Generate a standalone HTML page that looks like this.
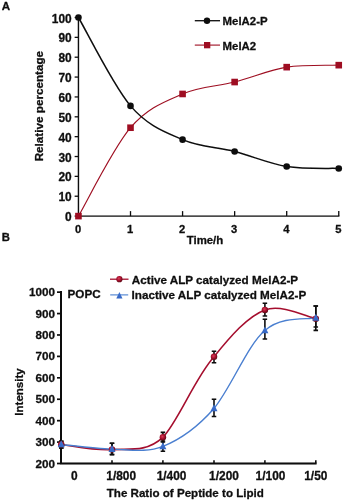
<!DOCTYPE html><html><head><meta charset="utf-8"><title>Figure</title><style>html,body{margin:0;padding:0;background:#fff}svg{display:block}</style></head><body><svg width="344" height="502" viewBox="0 0 344 502">
<defs>
<radialGradient id="gr" cx="0.42" cy="0.38" r="0.62"><stop offset="0" stop-color="#d8405a"/><stop offset="0.5" stop-color="#ad1230"/><stop offset="1" stop-color="#5c0716"/></radialGradient>
<linearGradient id="gb" x1="0" y1="0" x2="0" y2="1"><stop offset="0" stop-color="#3f74cf"/><stop offset="1" stop-color="#3566c4"/></linearGradient>
<filter id="soft" x="-2%" y="-2%" width="104%" height="104%"><feGaussianBlur stdDeviation="0.33"/></filter>
</defs>
<rect width="344" height="502" fill="#ffffff"/>
<g filter="url(#soft)">
<g font-family="Liberation Sans, Arial, sans-serif" font-weight="bold" stroke="#0c0c0c" stroke-width="0.28" stroke-linejoin="round" fill="#0c0c0c">
<text x="1.7" y="9.6" font-size="11.6">A</text>
<text x="1.7" y="241.1" font-size="11.3">B</text>
<path d="M78.45,17.00 V216.1 H339.40" fill="none" stroke="#0c0c0c" stroke-width="1.4"/>
<line x1="74.65" x2="78.45" y1="216.10" y2="216.10" stroke="#0c0c0c" stroke-width="1.3"/>
<text x="71.65" y="221.10" font-size="11.9" text-anchor="end">0</text>
<line x1="74.65" x2="78.45" y1="196.24" y2="196.24" stroke="#0c0c0c" stroke-width="1.3"/>
<text x="71.65" y="201.24" font-size="11.9" text-anchor="end">10</text>
<line x1="74.65" x2="78.45" y1="176.38" y2="176.38" stroke="#0c0c0c" stroke-width="1.3"/>
<text x="71.65" y="181.38" font-size="11.9" text-anchor="end">20</text>
<line x1="74.65" x2="78.45" y1="156.52" y2="156.52" stroke="#0c0c0c" stroke-width="1.3"/>
<text x="71.65" y="161.52" font-size="11.9" text-anchor="end">30</text>
<line x1="74.65" x2="78.45" y1="136.66" y2="136.66" stroke="#0c0c0c" stroke-width="1.3"/>
<text x="71.65" y="141.66" font-size="11.9" text-anchor="end">40</text>
<line x1="74.65" x2="78.45" y1="116.80" y2="116.80" stroke="#0c0c0c" stroke-width="1.3"/>
<text x="71.65" y="121.80" font-size="11.9" text-anchor="end">50</text>
<line x1="74.65" x2="78.45" y1="96.94" y2="96.94" stroke="#0c0c0c" stroke-width="1.3"/>
<text x="71.65" y="101.94" font-size="11.9" text-anchor="end">60</text>
<line x1="74.65" x2="78.45" y1="77.08" y2="77.08" stroke="#0c0c0c" stroke-width="1.3"/>
<text x="71.65" y="82.08" font-size="11.9" text-anchor="end">70</text>
<line x1="74.65" x2="78.45" y1="57.22" y2="57.22" stroke="#0c0c0c" stroke-width="1.3"/>
<text x="71.65" y="62.22" font-size="11.9" text-anchor="end">80</text>
<line x1="74.65" x2="78.45" y1="37.36" y2="37.36" stroke="#0c0c0c" stroke-width="1.3"/>
<text x="71.65" y="42.36" font-size="11.9" text-anchor="end">90</text>
<line x1="74.65" x2="78.45" y1="17.50" y2="17.50" stroke="#0c0c0c" stroke-width="1.3"/>
<text x="71.65" y="22.50" font-size="11.9" text-anchor="end">100</text>
<text x="78.05" y="233.00" font-size="11.2" text-anchor="middle">0</text>
<line x1="130.51" x2="130.51" y1="211.1" y2="216.1" stroke="#0c0c0c" stroke-width="1.3"/>
<text x="130.11" y="233.00" font-size="11.2" text-anchor="middle">1</text>
<line x1="182.57" x2="182.57" y1="211.1" y2="216.1" stroke="#0c0c0c" stroke-width="1.3"/>
<text x="182.17" y="233.00" font-size="11.2" text-anchor="middle">2</text>
<line x1="234.63" x2="234.63" y1="211.1" y2="216.1" stroke="#0c0c0c" stroke-width="1.3"/>
<text x="234.23" y="233.00" font-size="11.2" text-anchor="middle">3</text>
<line x1="286.69" x2="286.69" y1="211.1" y2="216.1" stroke="#0c0c0c" stroke-width="1.3"/>
<text x="286.29" y="233.00" font-size="11.2" text-anchor="middle">4</text>
<line x1="338.75" x2="338.75" y1="211.1" y2="216.1" stroke="#0c0c0c" stroke-width="1.3"/>
<text x="338.35" y="233.00" font-size="11.2" text-anchor="middle">5</text>
<text x="205" y="244.2" font-size="11.4" text-anchor="middle">Time/h</text>
<text transform="translate(42.6,106.1) rotate(-90)" font-size="11.7" text-anchor="middle">Relative percentage</text>
<line x1="194.8" x2="220" y1="20.7" y2="20.7" stroke="#0c0c0c" stroke-width="1.3"/><circle cx="207" cy="20.7" r="3.2" stroke="none"/>
<text x="222.6" y="25" font-size="11.4">MelA2-P</text>
<line x1="194.8" x2="220" y1="45.1" y2="45.1" stroke="#9e0e21" stroke-width="1.1"/><rect x="204" y="42" width="6.3" height="6.3" fill="#9e0e21" stroke="none"/>
<text x="222.6" y="50" font-size="11.4">MelA2</text>
</g>
<path d="M78.45,216.10 C87.13,201.37 113.16,148.08 130.51,127.72 C147.86,107.37 165.22,101.57 182.57,93.96 C199.92,86.35 217.28,86.51 234.63,82.04 C251.98,77.58 269.34,69.96 286.69,67.15 C304.04,64.34 330.07,65.49 338.75,65.16" fill="none" stroke="#9e0e21" stroke-width="1.15"/>
<path d="M78.45,17.50 C87.13,32.23 113.16,85.52 130.51,105.88 C147.86,126.23 165.22,132.03 182.57,139.64 C199.92,147.25 217.28,147.09 234.63,151.56 C251.98,156.02 269.34,163.64 286.69,166.45 C304.04,169.26 330.07,168.10 338.75,168.44" fill="none" stroke="#0c0c0c" stroke-width="1.5"/>
<rect x="75.15" y="212.80" width="6.6" height="6.6" fill="#9e0e21"/>
<rect x="127.21" y="124.42" width="6.6" height="6.6" fill="#9e0e21"/>
<rect x="179.27" y="90.66" width="6.6" height="6.6" fill="#9e0e21"/>
<rect x="231.33" y="78.74" width="6.6" height="6.6" fill="#9e0e21"/>
<rect x="283.39" y="63.85" width="6.6" height="6.6" fill="#9e0e21"/>
<rect x="335.45" y="61.86" width="6.6" height="6.6" fill="#9e0e21"/>
<circle cx="78.45" cy="17.50" r="3.3" fill="#0c0c0c"/>
<circle cx="130.51" cy="105.88" r="3.3" fill="#0c0c0c"/>
<circle cx="182.57" cy="139.64" r="3.3" fill="#0c0c0c"/>
<circle cx="234.63" cy="151.56" r="3.3" fill="#0c0c0c"/>
<circle cx="286.69" cy="166.45" r="3.3" fill="#0c0c0c"/>
<circle cx="338.75" cy="168.44" r="3.3" fill="#0c0c0c"/>
<g font-family="Liberation Sans, Arial, sans-serif" font-weight="bold" stroke="#0c0c0c" stroke-width="0.28" stroke-linejoin="round" fill="#0c0c0c">
<path d="M61.0,290.94 V463.5 H316.6" fill="none" stroke="#0c0c0c" stroke-width="2"/>
<line x1="57.0" x2="61.0" y1="463.50" y2="463.50" stroke="#0c0c0c" stroke-width="1.7"/>
<text x="55.00" y="467.55" font-size="11.65" text-anchor="end">200</text>
<line x1="57.0" x2="61.0" y1="442.08" y2="442.08" stroke="#0c0c0c" stroke-width="1.7"/>
<text x="55.00" y="446.13" font-size="11.65" text-anchor="end">300</text>
<line x1="57.0" x2="61.0" y1="420.66" y2="420.66" stroke="#0c0c0c" stroke-width="1.7"/>
<text x="55.00" y="424.71" font-size="11.65" text-anchor="end">400</text>
<line x1="57.0" x2="61.0" y1="399.24" y2="399.24" stroke="#0c0c0c" stroke-width="1.7"/>
<text x="55.00" y="403.29" font-size="11.65" text-anchor="end">500</text>
<line x1="57.0" x2="61.0" y1="377.82" y2="377.82" stroke="#0c0c0c" stroke-width="1.7"/>
<text x="55.00" y="381.87" font-size="11.65" text-anchor="end">600</text>
<line x1="57.0" x2="61.0" y1="356.40" y2="356.40" stroke="#0c0c0c" stroke-width="1.7"/>
<text x="55.00" y="360.45" font-size="11.65" text-anchor="end">700</text>
<line x1="57.0" x2="61.0" y1="334.98" y2="334.98" stroke="#0c0c0c" stroke-width="1.7"/>
<text x="55.00" y="339.03" font-size="11.65" text-anchor="end">800</text>
<line x1="57.0" x2="61.0" y1="313.56" y2="313.56" stroke="#0c0c0c" stroke-width="1.7"/>
<text x="55.00" y="317.61" font-size="11.65" text-anchor="end">900</text>
<line x1="57.0" x2="61.0" y1="292.14" y2="292.14" stroke="#0c0c0c" stroke-width="1.7"/>
<text x="55.00" y="296.19" font-size="11.65" text-anchor="end">1000</text>
<text x="74.2" y="479.70" font-size="11.9" text-anchor="middle">0</text>
<line x1="112" x2="112" y1="460.3" y2="463.5" stroke="#0c0c0c" stroke-width="1.6"/>
<text x="121.2" y="479.70" font-size="11.9" text-anchor="middle">1/800</text>
<line x1="162.9" x2="162.9" y1="460.3" y2="463.5" stroke="#0c0c0c" stroke-width="1.6"/>
<text x="171.6" y="479.70" font-size="11.9" text-anchor="middle">1/400</text>
<line x1="214" x2="214" y1="460.3" y2="463.5" stroke="#0c0c0c" stroke-width="1.6"/>
<text x="224" y="479.70" font-size="11.9" text-anchor="middle">1/200</text>
<line x1="264.9" x2="264.9" y1="460.3" y2="463.5" stroke="#0c0c0c" stroke-width="1.6"/>
<text x="270.5" y="479.70" font-size="11.9" text-anchor="middle">1/100</text>
<line x1="315.8" x2="315.8" y1="460.3" y2="463.5" stroke="#0c0c0c" stroke-width="1.6"/>
<text x="315.8" y="479.70" font-size="11.9" text-anchor="middle">1/50</text>
<text x="185.3" y="496.6" font-size="11.6" text-anchor="middle">The Ratio of Peptide to Lipid</text>
<text transform="translate(22.8,392) rotate(-90)" font-size="11.5" text-anchor="middle">Intensity</text>
<text x="67.5" y="298.4" font-size="11.7">POPC</text>
<line x1="110" x2="128.5" y1="279.2" y2="279.2" stroke="#a5102e" stroke-width="1.3"/><circle cx="119.4" cy="279.2" r="3.1" fill="url(#gr)" stroke="none"/>
<text x="131.8" y="284" font-size="11.7">Active ALP catalyzed MelA2-P</text>
<line x1="110.2" x2="128.2" y1="294.9" y2="294.9" stroke="#4a7fd0" stroke-width="1.1"/><path d="M119.4,292.1 l3.1,6.3 h-6.2z" fill="url(#gb)" stroke="none"/>
<text x="131.5" y="299.3" font-size="11.7">Inactive ALP catalyzed MelA2-P</text>
</g>
<path d="M61.25,444.44 C69.71,445.29 95.06,450.76 112.00,449.58 C128.94,448.40 145.90,452.83 162.90,437.37 C177.90,421.91 195.00,378.07 214.00,356.83 C231.00,335.59 247.93,316.27 264.90,309.92 C281.87,303.56 307.32,317.24 315.80,318.70" fill="none" stroke="#a5102e" stroke-width="1.6"/>
<path d="M61.25,444.44 C69.71,445.22 95.06,448.83 112.00,449.15 C128.94,449.47 145.90,453.15 162.90,446.36 C179.90,439.58 197.00,427.76 214.00,408.45 C231.00,387.84 247.93,344.28 264.90,330.48 C281.87,315.38 307.32,319.95 315.80,317.84" fill="none" stroke="#4a7fd0" stroke-width="1.4"/>
<path d="M59.0,441.3 h4.5 M59.0,448 h4.5 M61.25,441.3 V448" stroke="#0c0c0c" stroke-width="1.6" fill="none"/>
<path d="M59.0,441.3 h4.5 M59.0,448 h4.5 M61.25,441.3 V448" stroke="#0c0c0c" stroke-width="1.6" fill="none"/>
<path d="M109.75,443.3 h4.5 M109.75,454.5 h4.5 M112,443.3 V454.5" stroke="#0c0c0c" stroke-width="1.6" fill="none"/>
<path d="M109.75,443.3 h4.5 M109.75,454.6 h4.5 M112,443.3 V454.6" stroke="#0c0c0c" stroke-width="1.6" fill="none"/>
<path d="M160.65,432.4 h4.5 M160.65,442 h4.5 M162.9,432.4 V442" stroke="#0c0c0c" stroke-width="1.6" fill="none"/>
<path d="M160.65,441 h4.5 M160.65,451.3 h4.5 M162.9,441 V451.3" stroke="#0c0c0c" stroke-width="1.6" fill="none"/>
<path d="M211.75,351.3 h4.5 M211.75,362.7 h4.5 M214,351.3 V362.7" stroke="#0c0c0c" stroke-width="1.6" fill="none"/>
<path d="M211.75,399.3 h4.5 M211.75,416.5 h4.5 M214,399.3 V416.5" stroke="#0c0c0c" stroke-width="1.6" fill="none"/>
<path d="M262.65,303.3 h4.5 M262.65,316 h4.5 M264.9,303.3 V316" stroke="#0c0c0c" stroke-width="1.6" fill="none"/>
<path d="M262.65,319.2 h4.5 M262.65,339 h4.5 M264.9,319.2 V339" stroke="#0c0c0c" stroke-width="1.6" fill="none"/>
<path d="M313.55,306 h4.5 M313.55,330.4 h4.5 M315.8,306 V330.4" stroke="#0c0c0c" stroke-width="1.6" fill="none"/>
<path d="M313.55,306 h4.5 M313.55,327 h4.5 M315.8,306 V327" stroke="#0c0c0c" stroke-width="1.6" fill="none"/>
<circle cx="61.25" cy="444.44" r="3.25" fill="url(#gr)"/>
<circle cx="112.00" cy="449.58" r="3.25" fill="url(#gr)"/>
<circle cx="162.90" cy="437.37" r="3.25" fill="url(#gr)"/>
<circle cx="214.00" cy="356.83" r="3.25" fill="url(#gr)"/>
<circle cx="264.90" cy="309.92" r="3.25" fill="url(#gr)"/>
<circle cx="315.80" cy="318.70" r="3.25" fill="url(#gr)"/>
<path d="M61.25,440.34 l3.5,6.9 h-7z" fill="url(#gb)"/>
<path d="M112.00,445.05 l3.5,6.9 h-7z" fill="url(#gb)"/>
<path d="M162.90,442.26 l3.5,6.9 h-7z" fill="url(#gb)"/>
<path d="M214.00,404.35 l3.5,6.9 h-7z" fill="url(#gb)"/>
<path d="M264.90,326.38 l3.5,6.9 h-7z" fill="url(#gb)"/>
<path d="M315.80,313.74 l3.5,6.9 h-7z" fill="url(#gb)"/>
</g>
</svg></body></html>
